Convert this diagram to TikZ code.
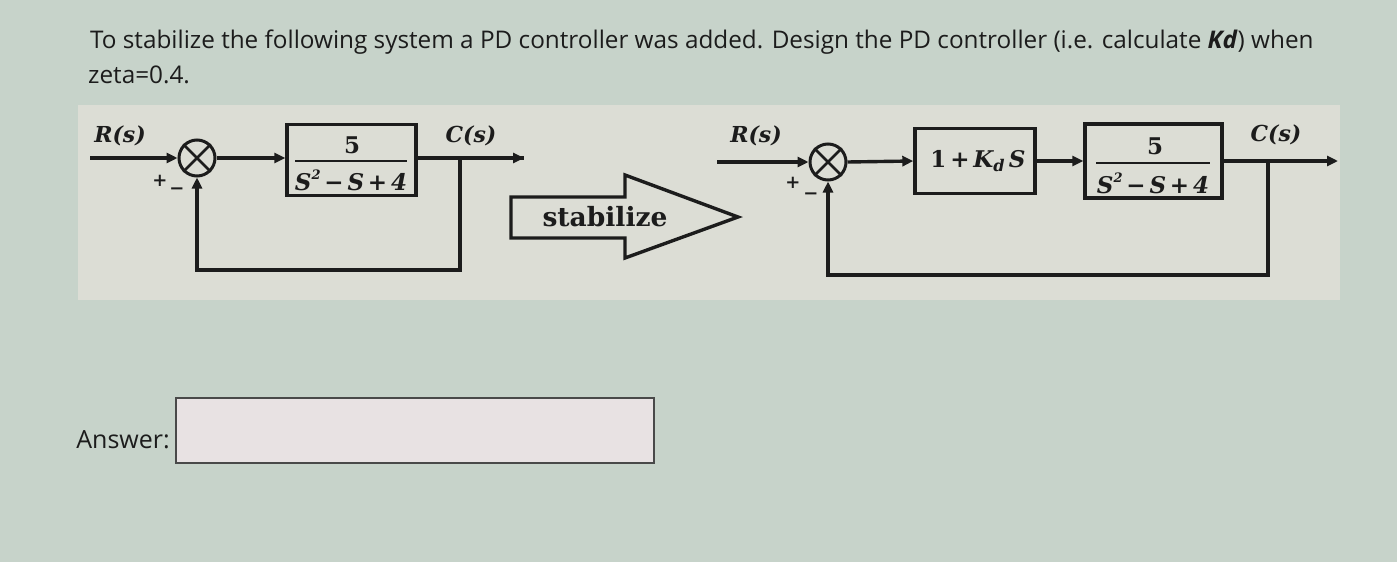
\documentclass[tikz,border=0pt]{standalone}
\usepackage{fontspec}
\setmainfont{Open Sans}
\newfontfamily\blkfont{DejaVu Serif}
\usetikzlibrary{arrows.meta}
\definecolor{pagebg}{HTML}{C7D3CA}
\definecolor{panelbg}{HTML}{DCDDD5}
\definecolor{answerbg}{HTML}{E8E2E3}
\definecolor{ink}{HTML}{1C1C1C}
\tikzset{
  sig/.style={draw=ink, line width=3.4pt, -{Triangle[length=11pt,width=10pt]}},
  wire/.style={draw=ink, line width=3.4pt},
  sumj/.style={circle, draw=ink, line width=3pt, minimum size=36pt, inner sep=0pt},
  blk/.style={draw=ink, line width=3.4pt, inner sep=0pt},
  lbl/.style={font=\blkfont\bfseries\itshape\fontsize{22}{24}\selectfont, text=ink},
  frac/.style={font=\blkfont\bfseries\fontsize{23}{26}\selectfont, text=ink, inner sep=0pt},
  sgn/.style={font=\blkfont\bfseries\fontsize{18}{18}\selectfont, text=ink, inner sep=0pt},
}
\begin{document}
\begin{tikzpicture}[x=1pt,y=-1pt]
\useasboundingbox[fill=pagebg] (0,0) rectangle (1397,562);
\fill[panelbg] (78,105) rectangle (1340,300);
% question text
\node[anchor=base west, inner sep=0pt, font=\fontsize{24.3}{28}\selectfont, text=ink] (qline1) at (90,48) {To stabilize the following system a PD controller was added. Design the PD controller (i.e. calculate \textbf{\textit{Kd}}) when};
\node[anchor=base west, inner sep=0pt, font=\fontsize{24.3}{28}\selectfont, text=ink] (qline2) at (88,83) {zeta=0.4.};
% open loop system
\node[sumj] (sum0) at (197,158){};
\draw[wire, line width=2.6pt](sum0.north east) -- (sum0.south west);
\draw[wire, line width=2.6pt](sum0.north west) -- (sum0.south east);
\node[blk, minimum width=129pt, minimum height=71pt] (plant0) at (351.5,160){};
\node[frac] (num0) at (352,145){5};
\node[frac] (den0) at (351,180){\itshape S\raisebox{0.9ex}{\fontsize{13}{14}\selectfont 2}\,−\,S\,+\,4};
\draw[wire, line width=2pt](295,161) -- (407,161);
\coordinate (in0) at (90,158);
\coordinate (out0) at (524,158);
\coordinate (tap0) at (460,158);
\coordinate (fb0) at (460,270);
\draw[sig](in0) -- (sum0.west);
\draw[sig](sum0.east) -- (plant0.west |- sum0.east);
\draw[wire](plant0.east |- out0) -- (out0);
\draw[sig](tap0) -- (out0);
\draw[sig](tap0) -- (fb0) -| (sum0.south);
\node[lbl] (r0) at (120,136){R(s)};
\node[lbl] (c0) at (471,136){C(s)};
\node[sgn] (plus0) at (160,181){+};
\node[sgn] (minus0) at (177,191){−};
% stabilize arrow
\draw[wire](511,197) -- (625,197) -- (625,175) -- (738,217) -- (625,258) -- (625,238) -- (511,238) -- cycle;
\node[font=\blkfont\bfseries\fontsize{26.5}{30}\selectfont, text=ink] (stab) at (605,217){stabilize};
% closed loop with PD
\node[sumj] (sum1) at (828,162){};
\draw[wire, line width=2.6pt](sum1.north east) -- (sum1.south west);
\draw[wire, line width=2.6pt](sum1.north west) -- (sum1.south east);
\node[blk, minimum width=120pt, minimum height=65pt] (pd1) at (975,161){};
\node[frac] (pdtxt) at (978,161){1\,+\,\textit{K\textsubscript{d}\,S}};
\node[blk, minimum width=137pt, minimum height=74pt] (plant1) at (1153.5,161){};
\node[frac] (num1) at (1155,146){5};
\node[frac] (den1) at (1153,183){\itshape S\raisebox{0.9ex}{\fontsize{13}{14}\selectfont 2}\,−\,S\,+\,4};
\draw[wire, line width=2pt](1096,163) -- (1210,163);
\coordinate (in1) at (717,162);
\coordinate (out1) at (1338,161);
\coordinate (tap1) at (1268,161);
\coordinate (fb1) at (1268,275);
\draw[sig](in1) -- (sum1.west);
\draw[sig](sum1.east) -- (pd1.west);
\draw[sig](pd1.east) -- (plant1.west);
\draw[sig](plant1.east) -- (out1);
\draw[sig](tap1) -- (fb1) -| (sum1.south);
\node[lbl] (r1) at (756,136){R(s)};
\node[lbl] (c1) at (1276,135){C(s)};
\node[sgn] (plus1) at (793,183){+};
\node[sgn] (minus1) at (811,196){−};
% answer field
\node[anchor=east, inner sep=0pt, font=\fontsize{25}{28}\selectfont, text=ink] (ans) at (170,440){Answer:};
\draw[fill=answerbg, draw=ink!80, line width=1.5pt](176,398) rectangle (654,463);
\end{tikzpicture}
\end{document}
